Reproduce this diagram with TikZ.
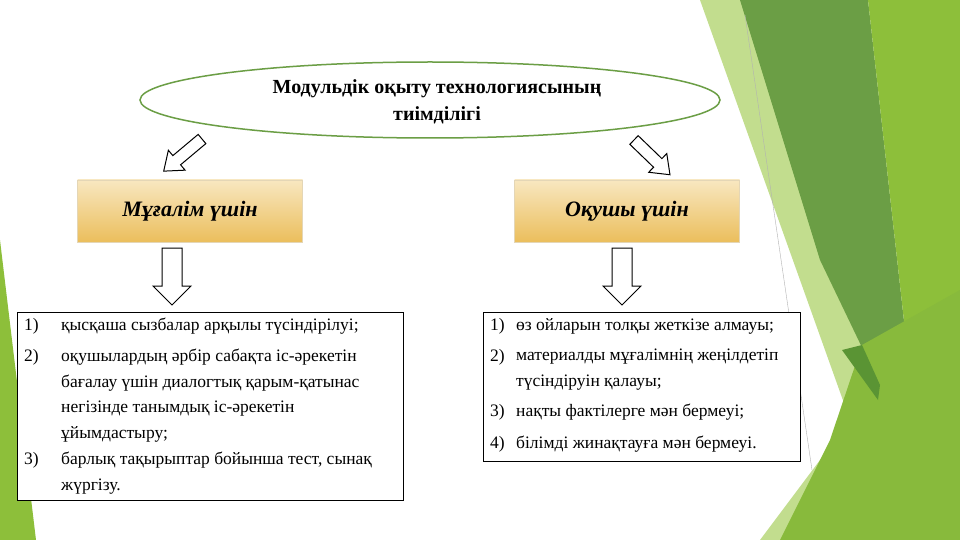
\documentclass[tikz,border=0pt]{standalone}
\usepackage{fontspec}
\setmainfont{Liberation Serif}
\usetikzlibrary{shapes.geometric}
\definecolor{gA}{HTML}{6B9E45}
\definecolor{gB}{HTML}{8DBF3A}
\definecolor{gC}{HTML}{C2DD8E}
\definecolor{gD}{HTML}{5A9434}
\definecolor{boxT}{HTML}{F8E7C0}
\definecolor{boxB}{HTML}{EBBE5C}
\tikzset{
 hbox/.style={draw=boxB!80!black!40, top color=boxT, bottom color=boxB, minimum width=225pt, minimum height=62pt, font=\fontsize{22}{24}\selectfont\bfseries\itshape},
 lst/.style={draw=black, line width=1.3pt, fill=white, anchor=north west, inner sep=0pt},
 harrow/.style={draw=black, line width=1pt, fill=white, line join=miter},
 itm/.style={anchor=north west, inner sep=0pt, align=left}
}
\begin{document}
\begin{tikzpicture}[x=1pt,y=-1pt]
\useasboundingbox (0,0) rectangle (960,540);
\fill[white] (0,0) rectangle (960,540);
% background
\fill[gC] (700,0) -- (750,0) -- (900,340) -- (960,400) -- (960,540) -- (760,540) -- (850,420) -- cycle;
\fill[gA] (740,0) -- (868,0) -- (905,330) -- (880,385) -- (820,260) -- cycle;
\fill[gB] (868,0) -- (960,0) -- (960,540) -- (850,540) -- (905,330) -- cycle;
\fill[gB!85!gA] (862,345) -- (960,290) -- (960,540) -- (780,540) -- (830,440) -- cycle;
\fill[gD] (862,345) -- (880,385) -- (878,400) -- (842,350) -- cycle;
\draw[gray!60, line width=0.4pt] (745,15) -- (812,470);
\fill[gB] (0,240) -- (36,540) -- (0,540) -- cycle;
% title
\node[draw=gA, line width=1.5pt, fill=white, ellipse, minimum width=580pt, minimum height=76pt] (t) at (430,100) {};
\node[align=center, font=\fontsize{20}{27}\selectfont\bfseries] (tt) at (437,102) {Модульдік оқыту технологиясының\\тиімділігі};
\node[hbox] (m) at (190,211) {Мұғалім үшін};
\node[hbox] (o) at (627,211) {Оқушы үшін};
% arrows
\draw[harrow, shift={(202,139)}, rotate=220] (0,-6) -- (33,-6) -- (33,-13) -- (50,0) -- (33,13) -- (33,6) -- (0,6) -- cycle;
\draw[harrow, shift={(634,140)}, rotate=-44] (0,-6) -- (33,-6) -- (33,-13) -- (50,0) -- (33,13) -- (33,6) -- (0,6) -- cycle;
\draw[harrow] (162,248) -- (182,248) -- (182,286) -- (191,286) -- (172,305) -- (153,286) -- (162,286) -- cycle;
\draw[harrow] (612,248) -- (632,248) -- (632,286) -- (641,286) -- (622,305) -- (603,286) -- (612,286) -- cycle;
\node[lst, minimum width=386pt, minimum height=188pt] (l1) at (17,312) {};
\node[lst, minimum width=317pt, minimum height=149pt] (l2) at (483,312) {};
\begin{scope}[font=\fontsize{17.5}{25.5}\selectfont]
\node[itm] (n11) at (24,318) {1)};
\node[itm] (t11) at (61,318) {қысқаша сызбалар арқылы түсіндірілуі;};
\node[itm] (n12) at (24,349) {2)};
\node[itm] (t12) at (61,349) {оқушылардың әрбір сабақта іс-әрекетін\\бағалау үшін диалогтық қарым-қатынас\\негізінде танымдық іс-әрекетін\\ұйымдастыру;};
\node[itm] (n13) at (24,452) {3)};
\node[itm] (t13) at (61,452) {барлық тақырыптар бойынша тест, сынақ\\жүргізу.};
\node[itm] (n21) at (490,318) {1)};
\node[itm] (t21) at (516,318) {өз ойларын толқы жеткізе алмауы;};
\node[itm] (n22) at (490,349) {2)};
\node[itm] (t22) at (516,349) {материалды мұғалімнің жеңілдетіп\\түсіндіруін қалауы;};
\node[itm] (n23) at (490,404) {3)};
\node[itm] (t23) at (516,404) {нақты фактілерге мән бермеуі;};
\node[itm] (n24) at (490,436) {4)};
\node[itm] (t24) at (516,436) {білімді жинақтауға мән бермеуі.};
\end{scope}
\end{tikzpicture}
\end{document}
